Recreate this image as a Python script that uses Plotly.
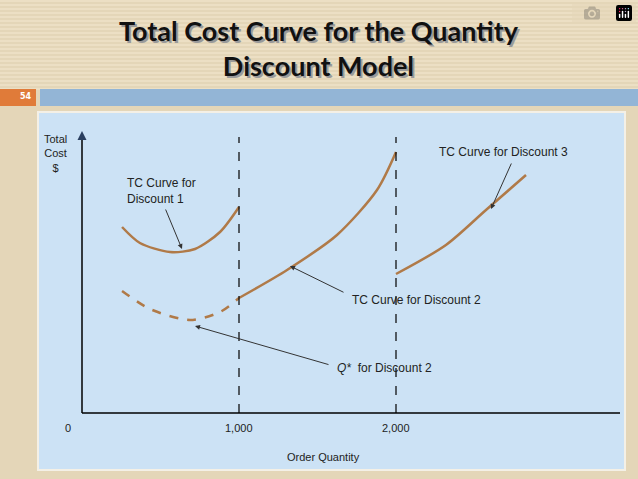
import plotly.graph_objects as go

# data (cost in arbitrary units)
d1_q = [255, 369, 561, 720, 879, 1000]
d1_tc = [186, 170, 161, 164, 181, 206]
d2_dash_q = [255, 433, 688, 879, 1000]
d2_dash_tc = [122, 104, 93, 101, 115]
d2_q = [1000, 1306, 1624, 1879, 2000]
d2_tc = [115, 143, 178, 223, 261]
d3_q = [2000, 2318, 2573, 2828]
d3_tc = [139, 168, 203, 238]
breaks = [1000, 2000]
tick_labels = ["0", "1,000", "2,000"]
tick_vals = [0, 1000, 2000]

W, H = 638, 479
X0, PXK = 82, 157 / 1000  # pixel origin / scale
Y0 = 413
def pxx(p): return (p - X0) / PXK
def py(p): return Y0 - p

brown = "#b07a48"
fig = go.Figure()
spline = dict(shape="spline", smoothing=0.8)
fig.add_trace(go.Scatter(x=d1_q, y=d1_tc, mode="lines", line=dict(color=brown, width=2.5, **spline)))
fig.add_trace(go.Scatter(x=d2_dash_q, y=d2_dash_tc, mode="lines", line=dict(color=brown, width=2.5, dash="dash", **spline)))
fig.add_trace(go.Scatter(x=d2_q, y=d2_tc, mode="lines", line=dict(color=brown, width=2.5, **spline)))
fig.add_trace(go.Scatter(x=d3_q, y=d3_tc, mode="lines", line=dict(color=brown, width=2.5, **spline)))

shapes = []
for yy in range(0, 90, 4):
    shapes.append(dict(type="rect", xref="paper", yref="paper", x0=0, x1=1, y0=1-(yy+2)/H, y1=1-yy/H,
                       fillcolor="#ecdfc4", line_width=0, layer="below"))
def prect(x0, y0, x1, y1, fill, line=None):
    shapes.append(dict(type="rect", xref="paper", yref="paper", x0=x0/W, x1=x1/W, y0=1-y1/H, y1=1-y0/H,
                       fillcolor=fill, line=dict(width=2 if line else 0, color=line or fill), layer="below"))
prect(40, 89, 638, 106, "#93b5d6")
prect(0, 89, 36, 106, "#e07b39")
prect(38, 112, 625, 470, "#cce2f5", "#f4f0e6")

for b in breaks:
    shapes.append(dict(type="line", x0=b, x1=b, y0=0, y1=py(137), line=dict(color="black", width=1.2, dash="dash")))
shapes.append(dict(type="line", x0=0, x1=pxx(620), y0=0, y1=0, line=dict(color="black", width=1.5)))
shapes.append(dict(type="line", x0=0, x1=0, y0=0, y1=py(135), line=dict(color="black", width=1.5)))

anns = []
anns.append(dict(x=0, y=py(131), ax=0, ay=py(140), axref="x", ayref="y", showarrow=True, arrowhead=2, arrowsize=1.2, arrowwidth=1.5, text=""))
def lab(t, x, y, size=11, xanchor="center", align="center"):
    anns.append(dict(x=x, y=y, text=t, showarrow=False, xanchor=xanchor, yanchor="middle", align=align,
                     font=dict(family="Liberation Sans, Arial", size=size, color="#222")))
lab("Total<br>Cost<br>$", pxx(55), py(153), 11)
for v, t in zip(tick_vals, tick_labels):
    lab(t, v if v else pxx(68), py(428), 11)
lab("Order Quantity", pxx(323), py(457), 11)
lab("TC Curve for<br>Discount 1", pxx(125), py(191), 12, "left", "left")
lab("TC Curve for Discount 2", pxx(350), py(300), 12, "left")
lab("<i>Q*</i>  for Discount 2", pxx(335), py(368), 12, "left")
lab("TC Curve for Discount 3", pxx(437), py(152), 12, "left")
def arr(x0, y0, x1, y1):
    anns.append(dict(x=pxx(x1), y=py(y1), ax=pxx(x0), ay=py(y0), axref="x", ayref="y", text="",
                     showarrow=True, arrowhead=2, arrowsize=1, arrowwidth=1, arrowcolor="#333"))
arr(165, 208, 182, 249)
arr(345, 293, 290, 266)
arr(330, 365, 195, 326)
arr(512, 162, 491, 209)

anns.append(dict(xref="paper", yref="paper", x=0.5, y=1-48/H, showarrow=False, yanchor="middle",
                 text="<b>Total Cost Curve for the Quantity<br>Discount Model</b>",
                 font=dict(family="Lato, DejaVu Sans", size=27, color="#111", shadow="2px 2px 0px #9a9a9a"),
                 align="center"))
anns.append(dict(xref="paper", yref="paper", x=18/W, y=1-97/H, showarrow=False, yanchor="middle",
                 text="<b>54</b>", font=dict(family="DejaVu Sans", size=8, color="white")))

fig.update_layout(width=W, height=H, margin=dict(l=0, r=0, t=0, b=0), showlegend=False,
                  paper_bgcolor="#e4d6b8", plot_bgcolor="rgba(0,0,0,0)",
                  xaxis=dict(range=[pxx(0), pxx(W)], visible=False, fixedrange=True),
                  yaxis=dict(range=[py(H), py(0)], visible=False, fixedrange=True),
                  shapes=shapes, annotations=anns)
fig.write_html("out.html", post_script="document.body.style.margin='0';document.body.style.overflow='hidden';")
